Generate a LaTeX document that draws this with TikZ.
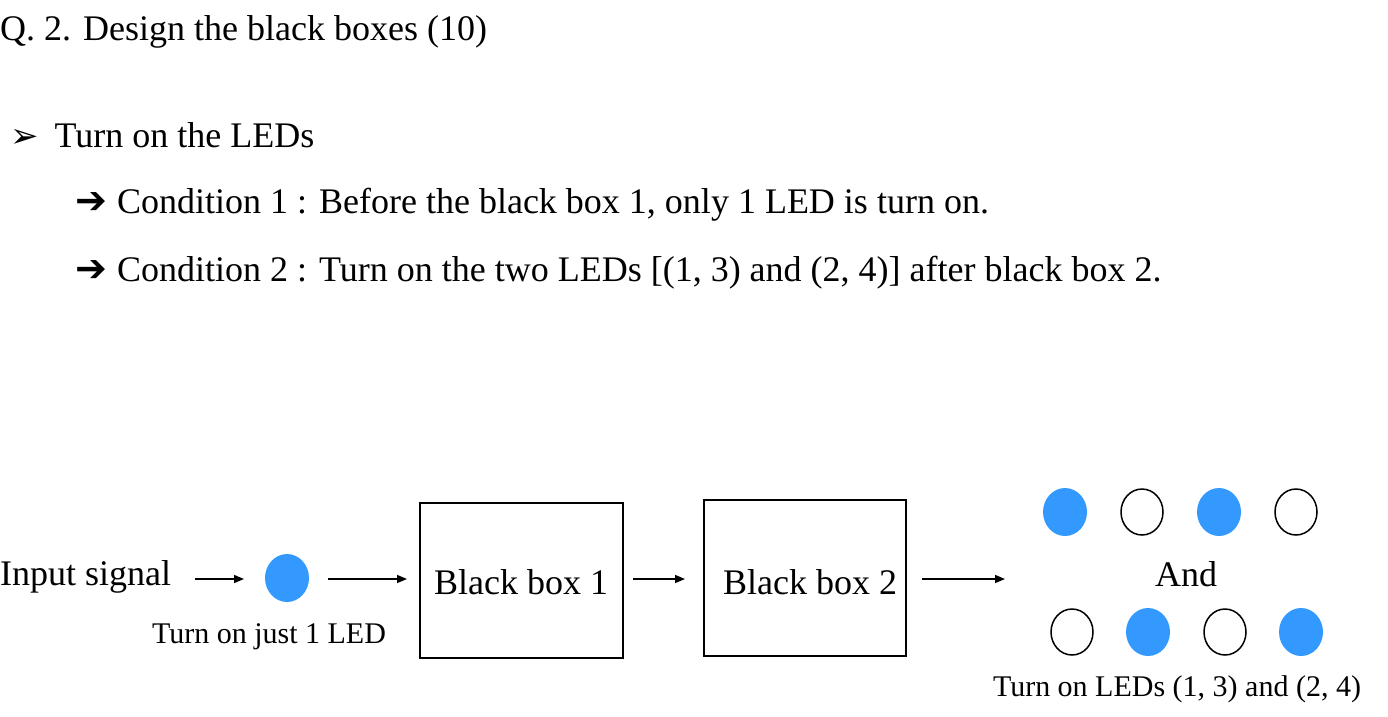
\documentclass[tikz,border=0pt]{standalone}
\usepackage{fontspec}
\setmainfont{Liberation Serif}
\newfontfamily\dejavu{DejaVu Sans}
\newfontfamily\dejavub{DejaVu Sans Bold}
\usetikzlibrary{arrows.meta,shapes.geometric}
\definecolor{ledblue}{HTML}{3399FF}
\begin{document}
\begin{tikzpicture}[x=1pt,y=-1pt,
  txt/.style={inner sep=0pt,font=\fontsize{36}{40}\selectfont},
  big/.style={inner sep=0pt,font=\fontsize{36}{40}\selectfont},
  small/.style={inner sep=0pt,font=\fontsize{30}{34}\selectfont},
  bbox/.style={draw,line width=1.2pt,inner sep=0pt},
  ledon/.style={ellipse,fill=ledblue,minimum width=44pt,minimum height=48pt,inner sep=0pt},
  ledoff/.style={ellipse,draw,line width=1.5pt,fill=white,minimum width=42pt,minimum height=46pt,inner sep=0pt},
  arr/.style={line width=1.5pt,-{Triangle[length=10pt,width=8pt]}}]
\useasboundingbox (0,0) rectangle (1388,716);
\node[txt,anchor=west] (t0) at (0,32) {Q. 2. Design the black boxes (10)};
\node[txt,anchor=west] (t1) at (10,135) {{\dejavu\fontsize{34}{36}\selectfont ➢}\hspace{16pt}Turn on the LEDs};
\node[txt,anchor=west] (t2) at (75,205) {{\dejavub\fontsize{38}{38}\selectfont ➔}\hspace{10pt}Condition 1 : Before the black box 1, only 1 LED is turn on.};
\node[txt,anchor=west] (t3) at (75,273) {{\dejavub\fontsize{38}{38}\selectfont ➔}\hspace{10pt}Condition 2 : Turn on the two LEDs [(1, 3) and (2, 4)] after black box 2.};
\node[txt,anchor=west] (in) at (0,577) {Input signal};
\coordinate (a1s) at (195,579); \coordinate (a1e) at (244,579);
\draw[arr] (a1s) -- (a1e);
\node[ledon] (led) at (287,578) {};
\node[small] (lbl1) at (269,637) {Turn on just 1 LED};
\coordinate (a2s) at (328,579); \coordinate (a2e) at (407,579);
\draw[arr] (a2s) -- (a2e);
\draw[bbox] (420,503) rectangle (623,658);
\node[big] (b1) at (521,582) {Black box 1};
\coordinate (a3s) at (633,579); \coordinate (a3e) at (685,579);
\draw[arr] (a3s) -- (a3e);
\draw[bbox] (704,500) rectangle (906,656);
\node[big] (b2) at (810,582) {Black box 2};
\coordinate (a4s) at (922,579); \coordinate (a4e) at (1005,579);
\draw[arr] (a4s) -- (a4e);
\node[ledon] (l1) at (1065,512) {};
\node[ledoff] (l2) at (1142,512) {};
\node[ledon] (l3) at (1219,512) {};
\node[ledoff] (l4) at (1296,512) {};
\node[txt] (and) at (1186,574) {And};
\node[ledoff] (m1) at (1072,632) {};
\node[ledon] (m2) at (1148,632) {};
\node[ledoff] (m3) at (1225,632) {};
\node[ledon] (m4) at (1301,632) {};
\node[small] (lbl2) at (1177,689) {Turn on LEDs (1, 3) and (2, 4)};
\end{tikzpicture}
\end{document}
